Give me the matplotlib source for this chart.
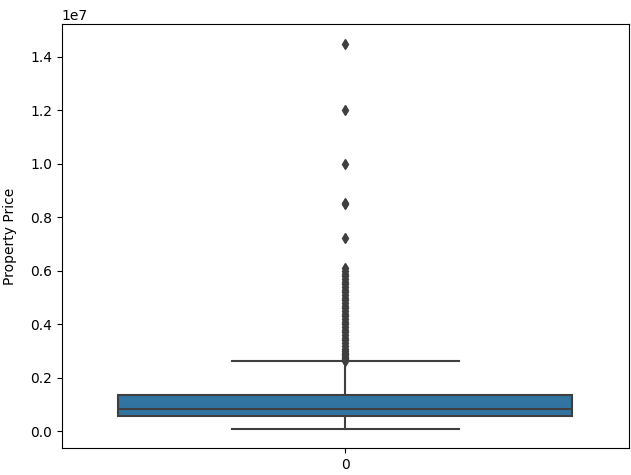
import matplotlib
matplotlib.use('Agg')
import matplotlib.pyplot as plt

# box summary
q1 = 560000
median = 830000
q3 = 1380000
whislo = 100000
whishi = 2630000

# outliers above the upper whisker
fliers = [2650000, 2700000, 2750000, 2800000, 2850000, 2900000, 2950000, 3000000,
          3100000, 3200000, 3300000, 3400000, 3500000, 3600000, 3700000, 3800000,
          3900000, 4000000, 4100000, 4200000, 4300000, 4400000, 4500000, 4600000,
          4700000, 4800000, 4900000, 5000000, 5100000, 5200000, 5300000, 5400000,
          5500000, 5600000, 5700000, 5800000, 5900000, 6000000, 6100000,
          7250000, 8500000, 8550000, 10000000, 12000000, 14500000]

box_color = '#3274a1'
line_color = '#3f3f3f'

fig = plt.figure(figsize=(6.31, 4.75), dpi=100)
ax = fig.add_axes([0.0978, 0.0568, 0.8986, 0.892])

stats = [dict(med=median, q1=q1, q3=q3, whislo=whislo, whishi=whishi, fliers=fliers)]
ax.bxp(stats, positions=[0], widths=0.8, patch_artist=True,
       boxprops=dict(facecolor=box_color, edgecolor=line_color, linewidth=1.5),
       medianprops=dict(color=line_color, linewidth=1.5),
       whiskerprops=dict(color=line_color, linewidth=1.5),
       capprops=dict(color=line_color, linewidth=1.5),
       flierprops=dict(marker='d', markerfacecolor=line_color, markeredgecolor=line_color,
                       markersize=5, linestyle='none'))

ax.set_xlim(-0.5, 0.5)
ax.set_xticks([0])
ax.set_xticklabels(['0'])
ax.set_ylabel('Property Price', labelpad=9)

fig.savefig('out.png')
